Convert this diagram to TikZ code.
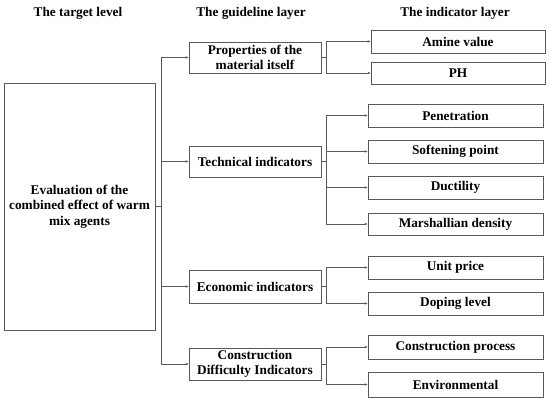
\documentclass[tikz,border=0pt]{standalone}
\usepackage{fontspec}
\setmainfont{Liberation Serif}
\usetikzlibrary{arrows.meta}
\tikzset{
  box/.style={draw=black!65, line width=0.8pt, inner sep=0pt, align=center, font=\bfseries\fontsize{13.3}{14.8}\selectfont},
  gbox/.style={box, minimum width=132pt},
  ibox/.style={box, minimum width=175pt},
  head/.style={font=\bfseries\fontsize{13.3}{15}\selectfont},
  conn/.style={draw=black!65, line width=0.8pt},
  arr/.style={conn, -{Stealth[length=3pt,width=2.4pt]}}
}
\begin{document}
\begin{tikzpicture}[x=1pt,y=-1pt]
\useasboundingbox (0,0) rectangle (550,403);
% headers
\node[head] (h1) at (78,13) {The target level};
\node[head] (h2) at (251,13) {The guideline layer};
\node[head] (h3) at (455,13) {The indicator layer};
% target
\node[box, minimum width=151pt, minimum height=247pt, font=\bfseries\fontsize{13.3}{15.5}\selectfont] (tgt) at (79.5,206.5) {Evaluation of the\\combined effect of warm\\mix agents};
% guideline
\node[gbox, minimum height=31pt] (g1) at (255,57.5) {Properties of the\\material itself};
\node[gbox, minimum height=31pt] (g2) at (255,161.5) {Technical indicators};
\node[gbox, minimum height=33pt] (g3) at (255,286.5) {Economic indicators};
\node[gbox, minimum height=32pt] (g4) at (255,364) {Construction\\Difficulty Indicators};
% indicators
\node[box, minimum width=174pt, minimum height=23pt] (i1) at (458,41.5) {Amine value};
\node[box, minimum width=174pt, minimum height=22pt] (i2) at (458,73) {PH};
\node[ibox, minimum height=23pt] (i3) at (455.5,115.5) {Penetration};
\node[ibox, minimum height=23pt] (i4) at (455.5,151.5) {Softening point};
\node[ibox, minimum height=23pt] (i5) at (455.5,187.5) {Ductility};
\node[ibox, minimum height=22pt] (i6) at (455.5,224) {Marshallian density};
\node[ibox, minimum height=23pt] (i7) at (455.5,267.5) {Unit price};
\node[ibox, minimum height=23pt] (i8) at (455.5,303.5) {Doping level};
\node[ibox, minimum height=24pt] (i9) at (455.5,347) {Construction process};
\node[ibox, minimum height=25pt] (i10) at (455.5,384.5) {Environmental};
% level 1 bus
\coordinate (b0) at (161,0);
\draw[conn] (tgt.east) -- (b0 |- tgt.east);
\draw[conn] (b0 |- g1.west) -- (b0 |- g4.west);
\foreach \g in {g1,g2,g3,g4} \draw[arr] (b0 |- \g.west) -- (\g.west);
% level 2 buses
\coordinate (b1) at (326,0);
\draw[conn] (g1.east) -- (b1 |- g1.east);
\draw[conn] (b1 |- i1.west) -- (b1 |- i2.west);
\foreach \i in {i1,i2} \draw[arr] (b1 |- \i.west) -- (\i.west);
\draw[conn] (g2.east) -- (b1 |- g2.east);
\draw[conn] (b1 |- i3.west) -- (b1 |- i6.west);
\foreach \i in {i3,i4,i5,i6} \draw[arr] (b1 |- \i.west) -- (\i.west);
\draw[conn] (g3.east) -- (b1 |- g3.east);
\draw[conn] (b1 |- i7.west) -- (b1 |- i8.west);
\foreach \i in {i7,i8} \draw[arr] (b1 |- \i.west) -- (\i.west);
\draw[conn] (g4.east) -- (b1 |- g4.east);
\draw[conn] (b1 |- i9.west) -- (b1 |- i10.west);
\foreach \i in {i9,i10} \draw[arr] (b1 |- \i.west) -- (\i.west);
\end{tikzpicture}
\end{document}
